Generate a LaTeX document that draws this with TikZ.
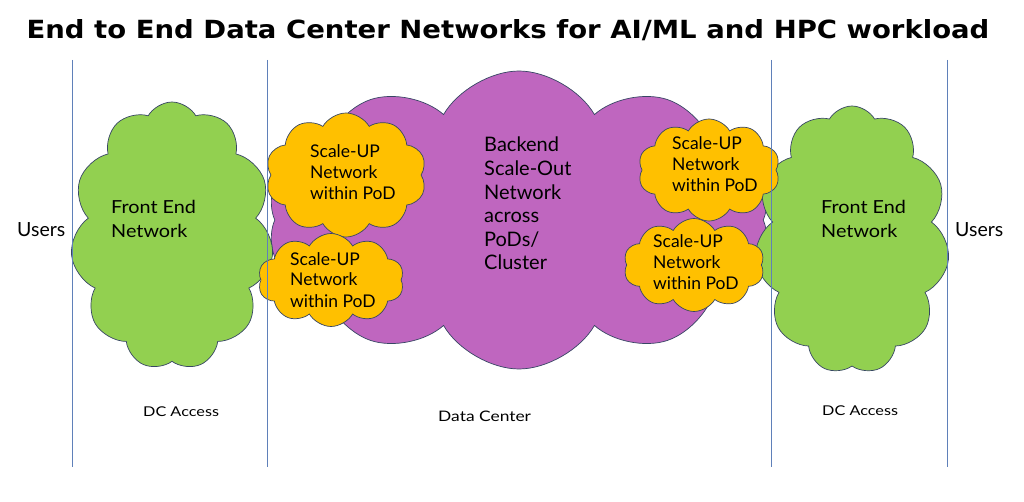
\documentclass[tikz,border=0pt]{standalone}
\usepackage{fontspec}
\setmainfont{Lato}
\newfontfamily\widefont[FakeStretch=1.1]{Lato}
\newfontfamily\labelfont[FakeStretch=1.2]{Lato}
\newfontfamily\titlefont[FakeStretch=1.1]{DejaVu Sans}
\usetikzlibrary{shapes.symbols}
\definecolor{frontgreen}{RGB}{146,208,80}
\definecolor{backpurple}{RGB}{191,102,191}
\definecolor{podorange}{RGB}{255,192,0}
\definecolor{cloudline}{RGB}{55,70,100}
\definecolor{zoneline}{RGB}{95,128,185}

\begin{document}
\begin{tikzpicture}[x=1pt,y=-1pt,
  cloudbox/.style={cloud,cloud puffs=11,cloud puff arc=120,cloud ignores aspect,
    draw=cloudline,line width=0.7pt,inner sep=0pt},
  txt/.style={anchor=base west,align=left,inner sep=0pt,
    font=\fontsize{17.5}{21}\selectfont},
  small/.style={anchor=base west,inner sep=0pt,font=\labelfont\fontsize{13.5}{15}\selectfont},
  zone/.style={draw=zoneline,line width=0.8pt}]
  \useasboundingbox (0,0) rectangle (1024,502);

  \node[font=\titlefont\bfseries\fontsize{25}{28}\selectfont] (title) at (508,30)
    {End to End Data Center Networks for AI/ML and HPC workload};

  \node[cloudbox,fill=backpurple,cloud puffs=10,minimum width=504,minimum height=298] (backend) at (519,220) {};
  \node[cloudbox,fill=frontgreen,minimum width=203,minimum height=268] (frontL) at (172,236) {};
  \node[cloudbox,fill=frontgreen,minimum width=195,minimum height=268] (frontR) at (852,240) {};
  \node[cloudbox,fill=podorange,cloud puffs=10,minimum width=161,minimum height=124] (podTL) at (346,175) {};
  \node[cloudbox,fill=podorange,cloud puffs=10,minimum width=146,minimum height=93] (podBL) at (331,280) {};
  \node[cloudbox,fill=podorange,cloud puffs=10,minimum width=142,minimum height=102] (podTR) at (709,170) {};
  \node[cloudbox,fill=podorange,cloud puffs=10,minimum width=141,minimum height=93] (podBR) at (694,265) {};

  \foreach \x in {72,267,771,947}
    \draw[zone] (\x,60) -- (\x,467);

  \node[txt,font=\fontsize{20}{23.6}\selectfont] (backendtxt) at (484,270)
    {Backend\\Scale-Out\\Network\\across\\PoDs/\\Cluster};
  \node[txt,font=\widefont\fontsize{18}{24}\selectfont] (frontLtxt) at (111,238) {Front End\\Network};
  \node[txt,font=\widefont\fontsize{18}{24}\selectfont] (frontRtxt) at (821,238) {Front End\\Network};
  \node[txt] (podTLtxt) at (310,200) {Scale-UP\\Network\\within PoD};
  \node[txt] (podBLtxt) at (290,307) {Scale-UP\\Network\\within PoD};
  \node[txt] (podTRtxt) at (672,192) {Scale-UP\\Network\\within PoD};
  \node[txt] (podBRtxt) at (653,290) {Scale-UP\\Network\\within PoD};

  \node[txt,font=\fontsize{19.5}{22}\selectfont] (usersL) at (17,237) {Users};
  \node[txt,font=\fontsize{19.5}{22}\selectfont] (usersR) at (955,237) {Users};
  \node[small] (accessL) at (143,416) {DC Access};
  \node[small,font=\labelfont\fontsize{14.5}{16}\selectfont] (dc) at (438,421) {Data Center};
  \node[small] (accessR) at (822,415) {DC Access};
\end{tikzpicture}
\end{document}
